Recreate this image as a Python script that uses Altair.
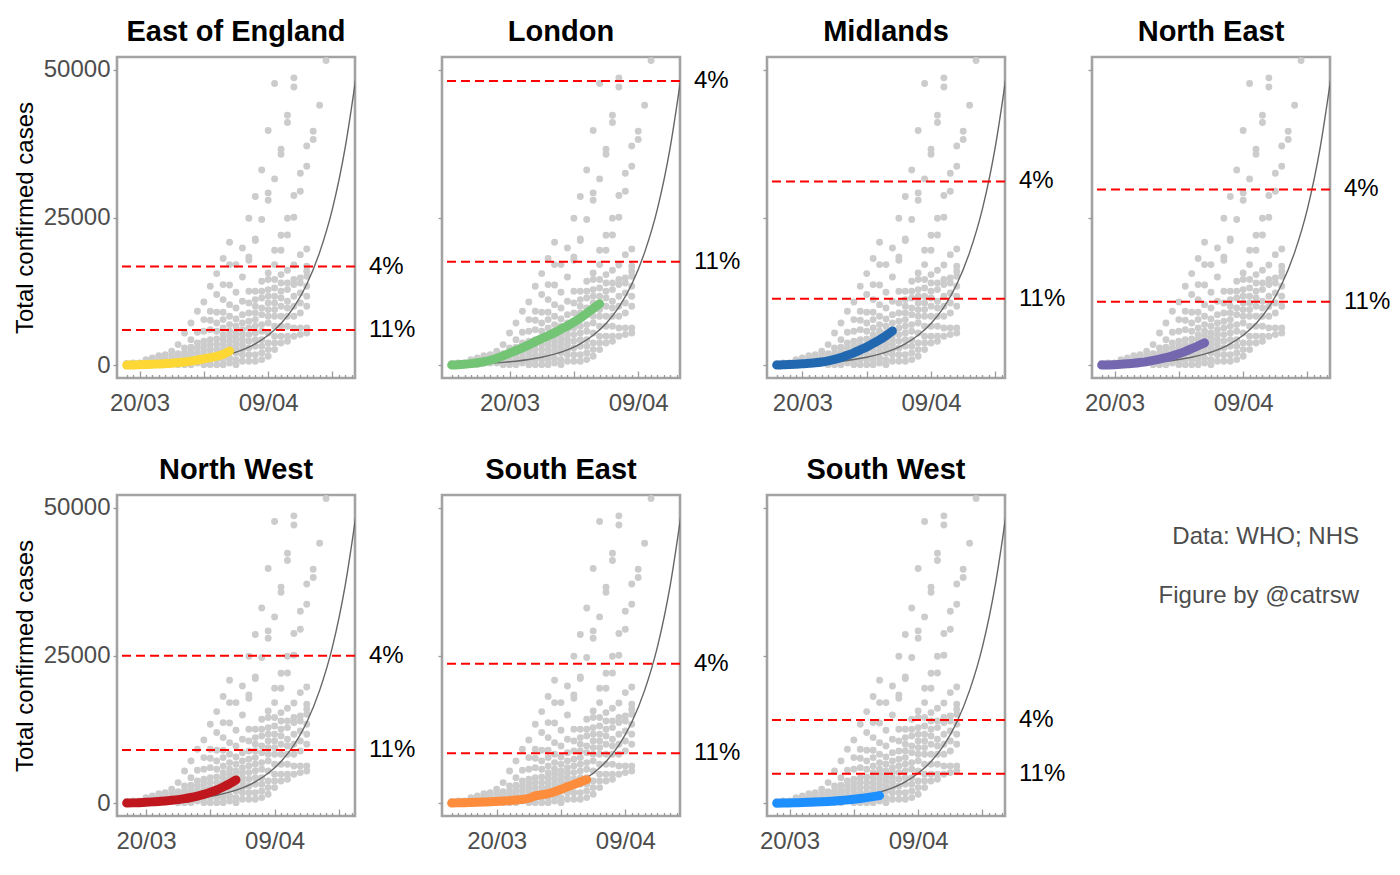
import altair as alt
import pandas as pd

FONT = "Liberation Sans"

# Regions, colours and the first day of each regional series (all run to 03/04)
regions = ["East of England", "London", "Midlands", "North East",
           "North West", "South East", "South West"]
region_colours = ["#FDD834", "#74C476", "#2168B0", "#7566B0",
                  "#C0161D", "#FD8D3C", "#1E8FFF"]
start_dates = ["2020-03-18", "2020-03-11", "2020-03-16", "2020-03-18",
               "2020-03-17", "2020-03-13", "2020-03-18"]

# Case totals at which a region's cumulative attack would imply 4% / 11%
level_4pct = [16700, 48070, 31090, 29740, 24940, 23590, 14080]
level_11pct = [5990, 17500, 11240, 10730, 9010, 8450, 5000]

# Total confirmed cases per region, one value per day from the start date
cases_east = [30, 60, 90, 130, 170, 220, 280, 350, 450, 560, 700, 880, 1090,
              1300, 1530, 1850, 2400]
cases_london = [50, 100, 180, 280, 420, 600, 850, 1200, 1600, 2050, 2500, 2950,
                3450, 4000, 4500, 5000, 5500, 6100, 6650, 7300, 8000, 8800,
                9600, 10400]
cases_midlands = [40, 80, 120, 180, 250, 330, 420, 550, 750, 1000, 1300, 1700,
                  2100, 2600, 3100, 3700, 4300, 5000, 5800]
cases_north_east = [30, 60, 110, 180, 260, 350, 470, 620, 820, 1050, 1300,
                    1600, 1950, 2350, 2800, 3300, 3800]
cases_north_west = [40, 70, 110, 170, 240, 320, 400, 500, 620, 780, 980, 1220,
                    1500, 1850, 2250, 2750, 3300, 3950]
cases_south_east = [40, 70, 100, 140, 180, 220, 260, 320, 380, 450, 540, 660,
                    850, 1250, 1450, 1650, 1950, 2350, 2800, 3200, 3600, 4000]
cases_south_west = [20, 40, 60, 90, 120, 160, 200, 250, 320, 400, 480, 580,
                    690, 820, 960, 1120, 1300]
region_cases = [cases_east, cases_london, cases_midlands, cases_north_east,
                cases_north_west, cases_south_east, cases_south_west]

# Comparison trajectories: totals for each day since the start (grey dots)
grey_by_day = [
    [50, 150, 300],
    [80, 200, 400],
    [100, 250, 400],
    [150, 400, 950],
    [150, 680, 1240],
    [400, 960, 1640],
    [400, 1070, 1800],
    [400, 960, 1640, 2370],
    [110, 680, 1240, 1970, 3500],
    [110, 680, 1520, 2090, 2930, 5470],
    [110, 960, 1640, 2370, 3050, 4340, 7160],
    [400, 1240, 2090, 2930, 3780, 5580, 9140],
    [110, 680, 1520, 2370, 3210, 4060, 5750, 7730, 10720],
    [110, 960, 1800, 2650, 3500, 4340, 6030, 7610, 9140, 13370],
    [110, 960, 1800, 2650, 3500, 4460, 5750, 7160, 8970, 11960, 15510],
    [110, 960, 1800, 2650, 3500, 4340, 5190, 6320, 7730, 8970, 11110, 13650, 18050],
    [400, 1240, 2370, 3210, 4060, 4910, 5750, 6880, 8290, 10260, 13590, 17030, 20810],
    [110, 960, 2090, 2930, 3780, 4620, 5470, 6600, 7840, 9700, 12350, 17030],
    [680, 1800, 2650, 3500, 4340, 5190, 6030, 7160, 8570, 10830, 14950, 19850],
    [680, 1800, 2930, 4060, 5190, 6320, 7440, 8850, 10550, 12520, 17770, 18330, 24870],
    [680, 1800, 3210, 4340, 5470, 6600, 7730, 8850, 9980, 11110, 12520, 21090, 21380, 28540],
    [960, 2090, 3210, 4340, 5750, 6880, 8570, 9700, 11390, 12520, 14210, 24650, 33050],
    [1520, 2650, 3780, 5470, 7160, 8290, 9420, 10550, 11670, 12800, 14500, 15620, 27920, 29160, 39710],
    [2650, 3780, 4910, 6600, 8290, 9420, 10550, 11670, 13080, 14500, 17030, 19460, 31530, 47660],
    [3780, 4910, 6600, 8290, 9980, 11390, 12520, 13930, 15340, 19460, 22000, 35700, 36550],
    [4060, 4910, 6600, 8290, 9700, 10830, 12800, 13930, 16070, 22050, 24870, 41060, 42300],
    [4910, 6320, 8290, 9980, 11670, 13650, 14500, 16980, 25040, 28710, 47090, 48620],
    [5190, 6320, 8850, 10550, 12240, 13930, 14780, 18720, 29440, 32490],
    [5470, 6320, 9980, 11670, 13370, 15060, 15900, 16750, 19680, 33670, 37110],
    [38180, 39590],
    [43990],
    [51550],
]

# Reference exponential growth curve
curve_days = [0, 2, 4, 6, 8, 10, 12, 14, 16, 18, 20, 22, 24, 26, 28, 30, 32, 34, 36]
curve_cases = [132, 184, 255, 355, 500, 690, 970, 1350, 1880, 2610, 3640, 5070,
               7060, 9830, 13700, 19100, 26500, 37000, 51400]

W, H = 238, 321
X_DOMAIN = [-1.5, 35.5]
Y_DOMAIN = [-2150, 52150]
AXIS_GREY = "#4D4D4D"
FRAME_GREY = "#A3A3A3"

grey_df = pd.DataFrame(
    [{"day": d, "cases": v} for d, vals in enumerate(grey_by_day) for v in vals]
)
curve_df = pd.DataFrame({"day": curve_days, "cases": curve_cases})


def panel(i):
    start = pd.Timestamp(start_dates[i])
    major = [(pd.Timestamp(d) - start).days
             for d in ["2020-03-20", "2020-03-30", "2020-04-09", "2020-04-19"]]
    first_col = i % 4 == 0

    xs = alt.Scale(domain=X_DOMAIN, nice=False, zero=False)
    ys = alt.Scale(domain=Y_DOMAIN, nice=False, zero=False)

    label_axis = alt.Axis(
        orient="bottom", values=[major[0], major[2]],
        labelExpr=f"datum.value === {major[0]} ? '20/03' : '09/04'",
        ticks=False, domain=False, grid=False, title=None,
        labelFontSize=24, labelColor=AXIS_GREY, labelFont=FONT, labelPadding=13,
    )
    tick_axis = alt.Axis(
        orient="top", offset=-H, values=list(range(0, 36)),
        labels=False, domain=False, grid=False, title=None,
        tickColor="#9A9A9A", tickWidth=1.3,
        tickSize={"condition": {"test": f"indexof({major}, datum.value) >= 0",
                                "value": 7}, "value": 3.5},
    )
    # every layer carries the same y axis so the shared axis is kept
    y_axis = alt.Axis(
        values=[0, 25000, 50000], format="d", labels=first_col,
        domain=False, grid=False,
        tickColor="#9A9A9A", tickSize=4, tickWidth=1.3,
        labelFontSize=24, labelColor=AXIS_GREY, labelFont=FONT, labelPadding=3,
        title="Total confirmed cases" if first_col else None,
        titleFontSize=24, titleFont=FONT, titleFontWeight="normal",
        titleColor="black", titlePadding=6,
    )

    def yenc():
        return alt.Y("cases:Q", scale=ys, axis=y_axis)

    dots = alt.Chart(grey_df).mark_circle(size=48, color="#CCCCCC", opacity=1).encode(
        x=alt.X("day:Q", scale=xs, axis=label_axis),
        y=yenc(),
    )
    curve = alt.Chart(curve_df).mark_line(
        color="#666666", strokeWidth=1.4, interpolate="monotone", clip=True
    ).encode(
        x=alt.X("day:Q", scale=xs, axis=tick_axis),
        y=yenc(),
    )
    levels = pd.DataFrame({"cases": [level_4pct[i], level_11pct[i]],
                           "label": ["4%", "11%"]})
    rules = alt.Chart(levels).mark_rule(
        color="#FF0000", strokeWidth=2, strokeDash=[9, 5]
    ).encode(y=yenc())
    level_text = alt.Chart(levels).mark_text(
        align="left", baseline="middle", fontSize=24, font=FONT, color="black"
    ).encode(
        x=alt.value(W + 14),
        y=yenc(),
        text="label:N",
    )
    series = pd.DataFrame({"day": list(range(len(region_cases[i]))),
                           "cases": region_cases[i]})
    line = alt.Chart(series).mark_line(
        color=region_colours[i], strokeWidth=9, strokeCap="round",
        strokeJoin="round", interpolate="monotone"
    ).encode(
        x=alt.X("day:Q", scale=xs, axis=None),
        y=yenc(),
    )

    return alt.layer(dots, curve, rules, line, level_text).properties(
        width=W, height=H,
        title=alt.TitleParams(regions[i], fontSize=29, fontWeight="bold",
                              font=FONT, color="black", anchor="middle",
                              offset=10),
        view=alt.ViewBackground(stroke=FRAME_GREY, strokeWidth=2.6),
    ).resolve_axis(x="independent")


credits = pd.DataFrame({"text": ["Data: WHO; NHS", "Figure by @catrsw"],
                        "ypos": [42, 101]})
credit_panel = alt.Chart(credits).mark_text(
    align="right", baseline="middle", fontSize=24, font=FONT, color=AXIS_GREY
).encode(
    x=alt.value(267),
    y=alt.Y("ypos:Q", scale=None, axis=None),
    text="text:N",
).properties(width=W, height=H)

chart = alt.concat(
    *[panel(i) for i in range(len(regions))], credit_panel,
    columns=4, spacing={"row": 117, "column": 87}, bounds="flush",
).properties(
    padding={"left": 11, "top": 16, "right": 5, "bottom": 5},
).configure(font=FONT).configure_view(strokeWidth=0)

chart.save("out.html", embed_options={"renderer": "svg", "actions": False})
